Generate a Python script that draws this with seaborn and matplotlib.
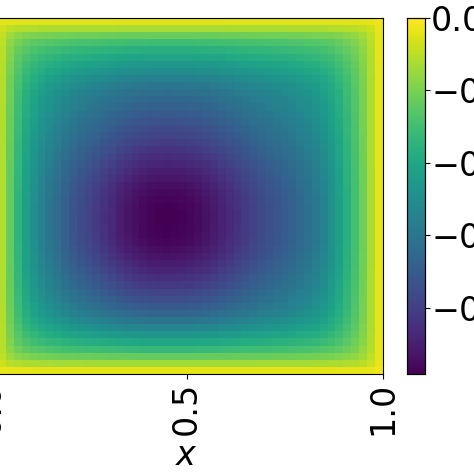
import matplotlib
matplotlib.use("Agg")
import matplotlib.pyplot as plt
import seaborn as sns
import numpy as np
import pandas as pd

u_min = -0.0737

# depth along the row through the minimum (left to right), 1 = darkest
x_profile = [
    .03, .12, .24, .35, .44, .51, .56, .61, .65, .70,
    .74, .775, .80, .83, .86, .89, .92, .945, .965, .98,
    .992, .998, 1.0, .998, .993, .985, .972, .955, .935, .91,
    .885, .86, .835, .81, .785, .76, .74, .72, .695, .665,
    .635, .60, .555, .50, .44, .37, .30, .22, .13, .04,
]
# depth along the column through the minimum (top to bottom)
y_profile = [
    .05, .13, .23, .31, .37, .42, .47, .52, .57, .61,
    .645, .675, .70, .725, .75, .775, .80, .825, .85, .875,
    .90, .925, .945, .965, .98, .99, .997, 1.0, 1.0, .998,
    .993, .985, .97, .95, .925, .90, .87, .84, .80, .765,
    .725, .68, .62, .55, .48, .41, .33, .24, .14, .04,
]

x_ticks = [0.0, 0.5, 1.0]
cbar_ticks = [0.0, -0.015, -0.03, -0.045, -0.06]

# the level curves are squarer than a plain product of the two profiles
rx, ry = np.meshgrid(x_profile, y_profile)
field = pd.DataFrame(u_min * (rx ** -1.25 + ry ** -1.25 - 1) ** (-1 / 1.25))

fig = plt.figure(figsize=(4.74, 4.74), dpi=100)
ax = fig.add_axes([-9.5 / 474, 100 / 474, 392 / 474, 356 / 474])
cax = fig.add_axes([407 / 474, 100 / 474, 18 / 474, 356 / 474])

sns.heatmap(field, ax=ax, cbar_ax=cax, cmap="viridis", vmin=u_min, vmax=0,
            xticklabels=False, yticklabels=False)

ax.set_xticks(np.array(x_ticks) * field.shape[1])
ax.set_xticklabels([f"{t:.1f}" for t in x_ticks], rotation=90, fontsize=24)
ax.set_xlabel("$x$", fontsize=24, labelpad=3)
ax.tick_params(axis="x", length=3.5, width=0.8, bottom=True, pad=2)
for spine in ax.spines.values():
    spine.set_visible(True)
    spine.set_linewidth(0.8)

cax.set_yticks(cbar_ticks)
cax.set_yticklabels([f"{t:.3f}".replace("-", "\u2212") for t in cbar_ticks], fontsize=24)
cax.tick_params(axis="y", length=3.5, width=0.8, right=True, pad=1)
for spine in cax.spines.values():
    spine.set_visible(True)
    spine.set_linewidth(0.8)

fig.savefig("out.png", dpi=100)
